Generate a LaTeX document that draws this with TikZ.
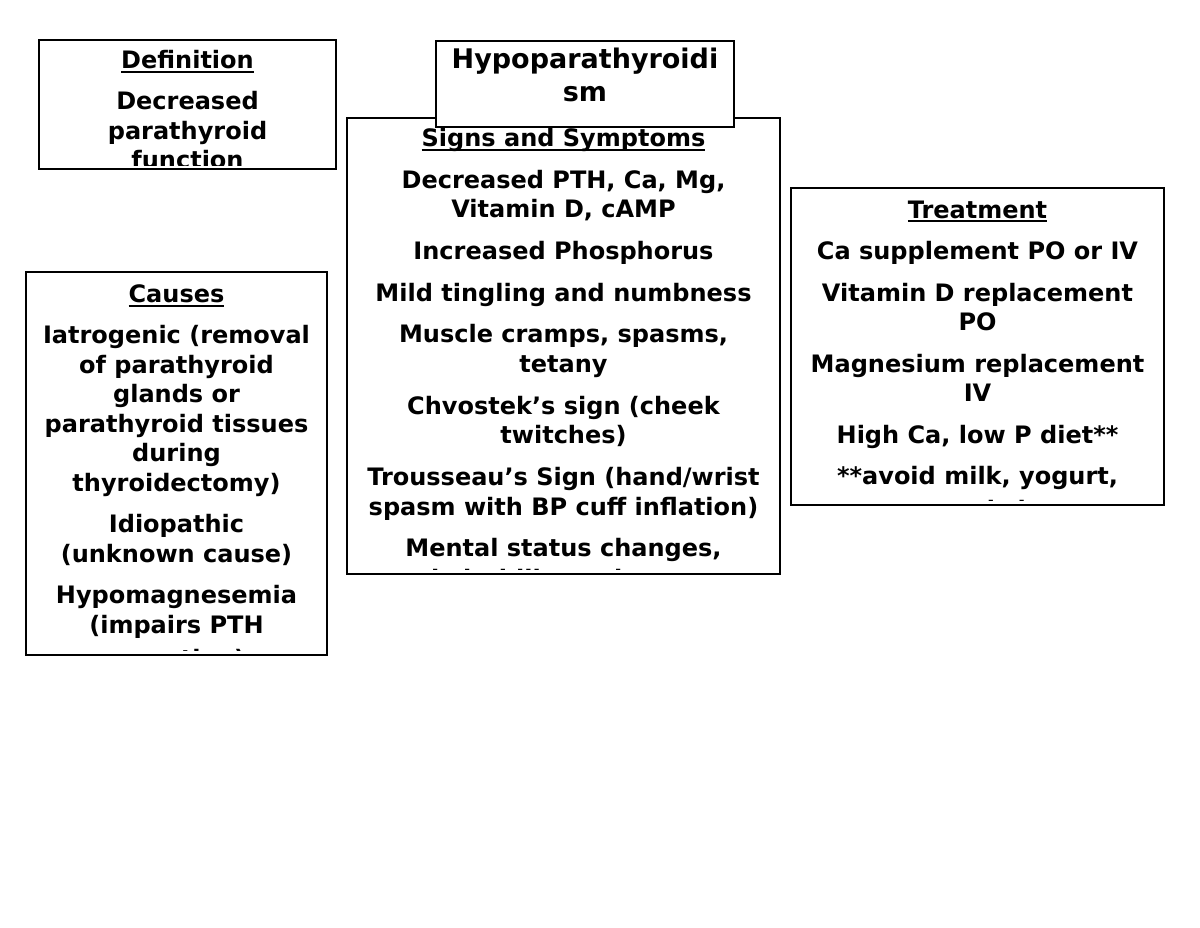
\documentclass[tikz,border=0pt]{standalone}
\usepackage{fontspec}
\setmainfont{DejaVu Sans}
\newcommand\ulh[1]{\setbox0=\hbox{#1}\rlap{\rule[-4pt]{\wd0}{2pt}}\box0}
\begin{document}
\begin{tikzpicture}[x=1pt,y=-1pt,
  box/.style={draw=black,line width=2pt,fill=white,inner sep=0pt,outer sep=0pt},
  txt/.style={anchor=base,inner sep=0pt,font=\fontsize{24}{29}\bfseries\selectfont},
  ttl/.style={anchor=base,inner sep=0pt,font=\fontsize{27}{29}\bfseries\selectfont}]
\useasboundingbox[fill=white] (0,0) rectangle (1200,927);

% boxes
\node[box,minimum width=297pt,minimum height=129pt] (def) at (187.5,104.5) {};
\node[box,minimum width=433pt,minimum height=456pt] (sig) at (563.5,346) {};
\node[box,minimum width=298pt,minimum height=86pt] (ttlbox) at (585,84) {};
\node[box,minimum width=301pt,minimum height=383pt] (cau) at (176.5,463.5) {};
\node[box,minimum width=373pt,minimum height=317pt] (trt) at (977.5,346.5) {};

% title
\node[ttl] (t1) at (585,68) {Hypoparathyroidi};
\node[ttl] (t2) at (585,101) {sm};

% definition
\begin{scope}
\clip ([shift={(1pt,-1pt)}]def.north west) rectangle ([shift={(-1pt,4pt)}]def.south east);
\foreach \y/\t [count=\i] in {68.5/{\ulh{Definition}},109.5/{Decreased},139/{parathyroid},168.5/{function}}
  \node[txt] (d\i) at (187.5,\y) {\t};
\end{scope}

% signs and symptoms
\begin{scope}
\clip ([shift={(1pt,-1pt)}]sig.north west) rectangle ([shift={(-1pt,4.5pt)}]sig.south east);
\foreach \y/\t [count=\i] in {146.5/{\ulh{Signs and Symptoms}},188/{Decreased PTH, Ca, Mg,},217.7/{Vitamin D, cAMP},259.3/{Increased Phosphorus},301/{Mild tingling and numbness},342.6/{Muscle cramps, spasms,},372.3/{tetany},414/{Chvostek’s sign (cheek},443.7/{twitches)},485.5/{Trousseau’s Sign (hand/wrist},515.2/{spasm with BP cuff inflation)},556.5/{Mental status changes,},587.5/{irritability, seizures}}
  \node[txt] (s\i) at (563.5,\y) {\t};
\end{scope}

% causes
\begin{scope}
\clip ([shift={(1pt,-1pt)}]cau.north west) rectangle ([shift={(-1pt,4.5pt)}]cau.south east);
\foreach \y/\t [count=\i] in {302.5/{\ulh{Causes}},343.5/{Iatrogenic (removal},373/{of parathyroid},402.5/{glands or},432/{parathyroid tissues},461.5/{during},491/{thyroidectomy)},532.5/{Idiopathic},562/{(unknown cause)},603.5/{Hypomagnesemia},633/{(impairs PTH},667/{secretion)}}
  \node[txt] (c\i) at (176.5,\y) {\t};
\end{scope}

% treatment
\begin{scope}
\clip ([shift={(1pt,-1pt)}]trt.north west) rectangle ([shift={(-1pt,4.5pt)}]trt.south east);
\foreach \y/\t [count=\i] in {218.3/{\ulh{Treatment}},259.5/{Ca supplement PO or IV},301/{Vitamin D replacement},330.5/{PO},372/{Magnesium replacement},401.5/{IV},443/{High Ca, low P diet**},484.5/{**avoid milk, yogurt,},518.5/{processed cheese}}
  \node[txt] (r\i) at (977.5,\y) {\t};
\end{scope}
\end{tikzpicture}
\end{document}
